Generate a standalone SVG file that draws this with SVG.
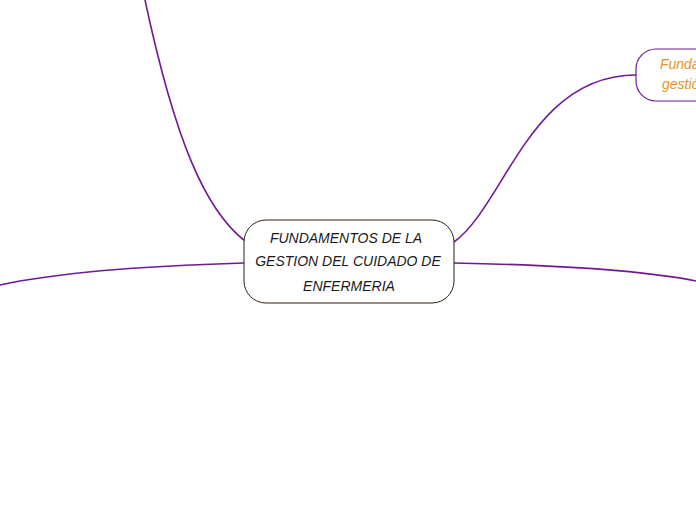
<svg xmlns="http://www.w3.org/2000/svg" width="696" height="520" viewBox="0 0 696 520">
<style>
.conn{fill:none;stroke:#6e1a96;stroke-width:1.6}
.main{fill:#fff;stroke:#2e2010;stroke-width:1}
.sub{fill:#fff;stroke:#6e1a96;stroke-width:1.2}
.mt{font-family:"Liberation Sans",sans-serif;font-style:italic;font-size:14px;fill:#1a1a1a;text-anchor:middle}
.st{font-family:"Liberation Sans",sans-serif;font-style:italic;font-size:14px;fill:#e8941c}
</style>
<rect width="696" height="520" fill="#fff"/>
<g id="connectors">
<path class="conn" d="M245,241 C205,210 175,140 145,0"/>
<path class="conn" d="M454,242 C505,205 530,75 636,75"/>
<path class="conn" d="M244,263 C140,266 60,272 0,285"/>
<path class="conn" d="M454,263 C560,265 640,270 696,281"/>
</g>
<g id="node-main">
<rect class="main" x="244" y="220" width="210" height="83" rx="22"/>
<text class="mt" x="346" y="243">FUNDAMENTOS DE LA</text>
<text class="mt" x="348" y="266">GESTION DEL CUIDADO DE</text>
<text class="mt" x="349" y="291">ENFERMERIA</text>
</g>
<g id="node-right">
<rect class="sub" x="636" y="49" width="130" height="52" rx="20"/>
<text class="st" x="660" y="69">Fundamentos</text>
<text class="st" x="662" y="89">gestión</text>
</g>
</svg>
